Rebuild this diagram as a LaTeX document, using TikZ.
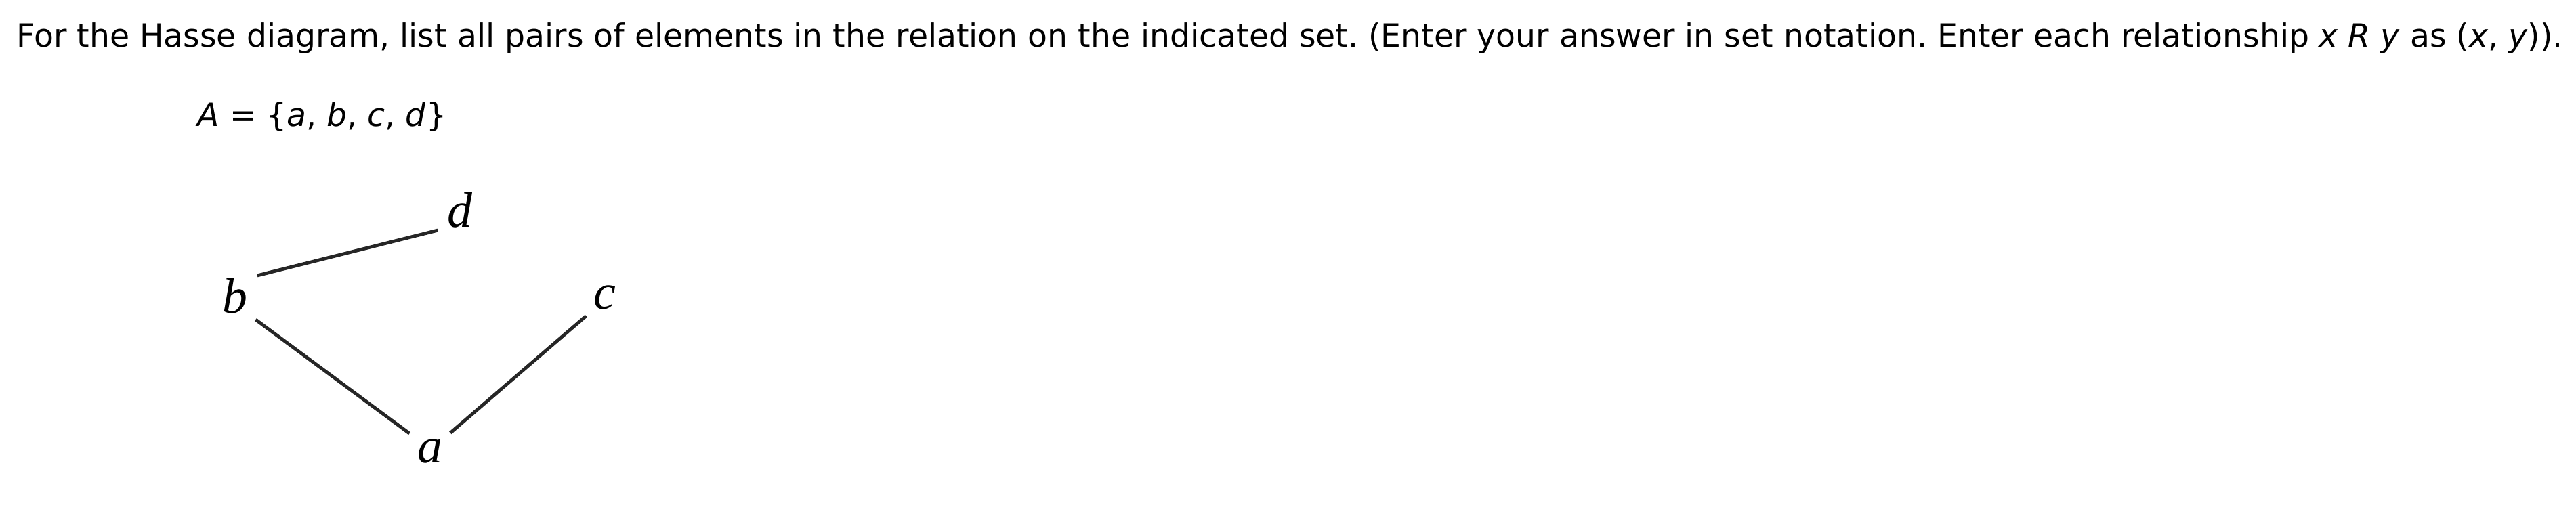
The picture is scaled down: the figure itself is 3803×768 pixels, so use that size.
\documentclass[tikz,border=0pt]{standalone}
\usepackage{fontspec}
\usepackage{tikz}
\newfontfamily\promptfont{DejaVu Sans}
\newfontfamily\vertfont{Liberation Serif}
\frenchspacing

\tikzset{
  prompt/.style={anchor=base west, inner sep=0pt, font=\promptfont\fontsize{13.45}{15}\selectfont},
  vert/.style={inner sep=0pt, font=\vertfont\itshape\fontsize{21}{24}\selectfont},
  edge/.style={line width=1.4pt, black!85, shorten <=4pt, shorten >=4pt}
}

\begin{document}
\begin{tikzpicture}[x=0.1mm,y=-0.1mm]
		\useasboundingbox (0,0) rectangle (3803,768);
		
		\node [prompt] (ask) at (24,70) {For the Hasse diagram, list all pairs of elements in the relation on the indicated set. (Enter your answer in set notation. Enter each relationship \textit{x R y} as (\textit{x}, \textit{y})).};
		\node [prompt] (set) at (291,187) {\textit{A} = \{\textit{a}, \textit{b}, \textit{c}, \textit{d}\}};
		
		\node [vert] (d) at (679,310) {d};
		\node [vert] (b) at (347,437) {b};
		\node [vert] (c) at (893,439) {c};
		\node [vert] (a) at (635,667) {a};
		
		\draw [edge] (b.north east) -- (d.south west);
		\draw [edge] (b.south east) -- (a.north west);
		\draw [edge] (a.north east) -- (c.south west);
	\end{tikzpicture}
\end{document}
